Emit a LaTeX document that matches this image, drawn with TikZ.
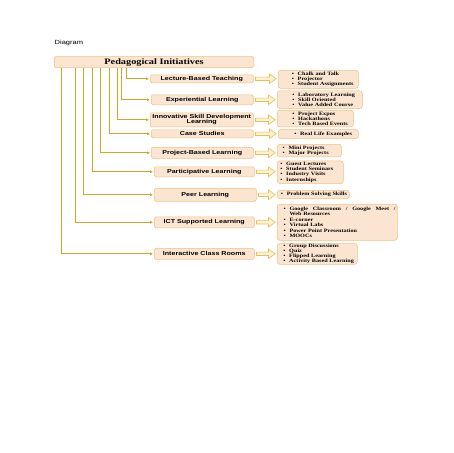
\documentclass[tikz,border=0pt]{standalone}
\usepackage{fontspec}
\newfontfamily\tnr[FakeStretch=1.24]{Liberation Serif}
\newfontfamily\ari[FakeStretch=1.25]{Liberation Sans}
\usetikzlibrary{calc,arrows.meta}
\definecolor{boxfill}{HTML}{FBE5D0}
\definecolor{boxdraw}{HTML}{F0C088}
\definecolor{linecol}{HTML}{D4A520}
\definecolor{arrdraw}{HTML}{E6BE5A}
\definecolor{arrfill}{HTML}{FFF2D0}
\newcommand\detpad{0pt}
\newcommand\itm[1]{\hspace*{\detpad}\makebox[6pt][l]{\textbullet}#1}
\newcommand\blockarrow[2]{%
  \draw[blockarr] let \p1=(#1.east), \p2=(#2.west) in
    (\x1+2pt,\y1+1.7pt) -- (\x2-8.5pt,\y1+1.7pt) -- (\x2-8.5pt,\y1+4.8pt) -- (\x2-1.8pt,\y1)
    -- (\x2-8.5pt,\y1-4.8pt) -- (\x2-8.5pt,\y1-1.7pt) -- (\x1+2pt,\y1-1.7pt) -- cycle;}
\tikzset{
  titlebox/.style={draw=boxdraw, fill=boxfill, rounded corners=1.5pt, line width=0.5pt,
    font=\tnr\bfseries\fontsize{8.3}{9}\selectfont, inner sep=0pt, anchor=north west},
  catbox/.style={draw=boxdraw, fill=boxfill, rounded corners=1.5pt, line width=0.5pt,
    font=\ari\bfseries\fontsize{5.7}{6}\selectfont, align=center, inner sep=0pt, anchor=north west},
  detbox/.style={draw=boxdraw, fill=boxfill, rounded corners=2.5pt, line width=0.5pt,
    font=\tnr\bfseries\fontsize{5}{5.2}\selectfont, align=left, inner sep=0pt, anchor=north west},
  tpad/.style={execute at begin node={\def\detpad{#1}}},
  conn/.style={draw=linecol, line width=1.1pt, shorten >=1pt, -{Latex[length=2.8pt,width=2.8pt]}},
  blockarr/.style={draw=arrdraw, fill=arrfill, line width=0.6pt, line join=miter},
  caption/.style={font=\ari\fontsize{6}{7}\selectfont, inner sep=0pt, anchor=west}
}
\begin{document}
\begin{tikzpicture}[x=1pt,y=-1pt]
\useasboundingbox[fill=white] (0,0) rectangle (453,453);
\node[caption] (cap) at (54.5,42.5) {Diagram};
\node[titlebox, minimum width=199.5pt, minimum height=11pt] (title) at (54,56.3) {Pedagogical Initiatives};
% categories
\node[catbox, minimum width=103pt, minimum height=8pt] (lec) at (150,74.5) {Lecture-Based Teaching};
\node[catbox, minimum width=102pt, minimum height=10pt] (exp) at (151,94.5) {Experiential Learning};
\node[catbox, minimum width=103pt, minimum height=14pt] (inn) at (150,112.5) {Innovative Skill Development\\[-0.6pt]Learning};
\node[catbox, minimum width=102pt, minimum height=8pt] (cas) at (151,129.5) {Case Studies};
\node[catbox, minimum width=102pt, minimum height=11pt] (prj) at (151,147) {Project-Based Learning};
\node[catbox, minimum width=100pt, minimum height=10pt] (par) at (154,166.5) {Participative Learning};
\node[catbox, minimum width=102pt, minimum height=13pt] (per) at (154,188) {Peer Learning};
\node[catbox, minimum width=100pt, minimum height=11pt] (ict) at (154,216.5) {ICT Supported Learning};
\node[catbox, minimum width=100pt, minimum height=11pt] (cls) at (154,248) {Interactive Class Rooms};
% details
\node[detbox, text width=80pt, minimum height=18pt, tpad=13.5pt] (d1) at (278,70)
  {\itm{Chalk and Talk}\\\itm{Projector}\\\itm{Student Assignments}};
\node[detbox, text width=85pt, minimum height=17.6pt, tpad=15pt] (d2) at (277,90.7)
  {\itm{Laboratory Learning}\\\itm{Skill Oriented}\\\itm{Value Added Course}};
\node[detbox, text width=76pt, minimum height=16.7pt, tpad=15pt] (d3) at (277,110)
  {\itm{Project Expos}\\\itm{Hackathons}\\\itm{Tech Based Events}};
\node[detbox, text width=80pt, minimum height=9pt, tpad=16pt] (d4) at (278,129.3)
  {\itm{Real Life Examples}};
\node[detbox, text width=64pt, minimum height=12.7pt, tpad=5.3pt] (d5) at (277,144)
  {\itm{Mini Projects}\\\itm{Major Projects}};
\node[detbox, text width=66pt, minimum height=22.6pt, tpad=3pt] (d6) at (277,160.7)
  {\itm{Guest Lectures}\\\itm{Student Seminars}\\\itm{Industry Visits}\\\itm{Internships}};
\node[detbox, text width=72pt, minimum height=8.3pt, tpad=3.7pt] (d7) at (277,190)
  {\itm{Problem Solving Skills}};
\node[detbox, text width=120pt, minimum height=36pt, tpad=6.3pt, font=\tnr\bfseries\fontsize{5}{5.5}\selectfont] (d8) at (277,204)
  {\itm{\hbox to 106pt{Google\hfill Classroom\hfill /\hfill Google\hfill Meet\hfill /}}\\
   \hspace*{\detpad}\hspace*{6pt}Web Resources\\\itm{E-corner}\\\itm{Virtual Labs}\\\itm{Power Point Presentation}\\\itm{MOOCs}};
\node[detbox, text width=80pt, minimum height=20.7pt, tpad=6pt] (d9) at (277,243.3)
  {\itm{Group Discussions}\\\itm{Quiz}\\\itm{Flipped Learning}\\\itm{Activity Based Learning}};
% connectors from title
\draw[conn] ([xshift=72.5pt]title.south west) |- (lec.west);
\draw[conn] ([xshift=67.5pt]title.south west) |- (exp.west);
\draw[conn] ([xshift=63.5pt]title.south west) |- (inn.west);
\draw[conn] ([xshift=55.5pt]title.south west) |- (cas.west);
\draw[conn] ([xshift=46.5pt]title.south west) |- (prj.west);
\draw[conn] ([xshift=38.5pt]title.south west) |- (par.west);
\draw[conn] ([xshift=29.5pt]title.south west) |- (per.west);
\draw[conn] ([xshift=21.5pt]title.south west) |- (ict.west);
\draw[conn] ([xshift=7.5pt]title.south west) |- (cls.west);
% block arrows
\blockarrow{lec}{d1}
\blockarrow{exp}{d2}
\blockarrow{inn}{d3}
\blockarrow{cas}{d4}
\blockarrow{prj}{d5}
\blockarrow{par}{d6}
\blockarrow{per}{d7}
\blockarrow{ict}{d8}
\blockarrow{cls}{d9}
\end{tikzpicture}
\end{document}
